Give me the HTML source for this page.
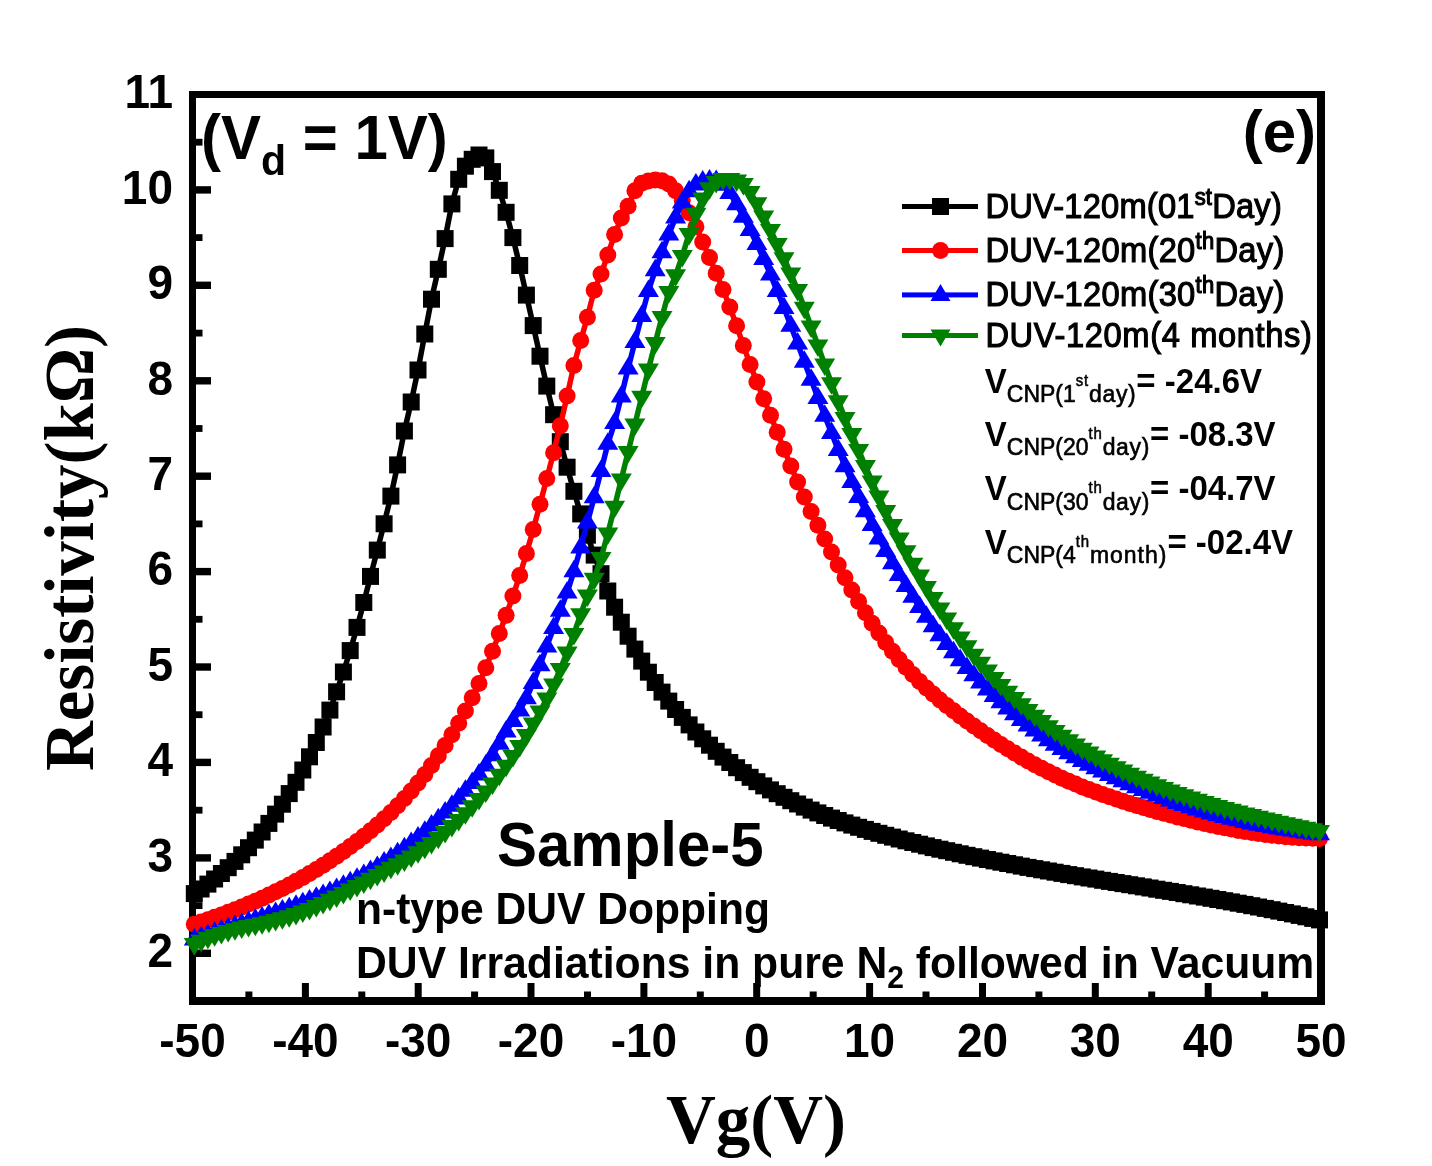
<!DOCTYPE html>
<html><head><meta charset="utf-8"><title>Resistivity vs Vg</title>
<style>html,body{margin:0;padding:0;background:#fff;}svg{display:block;}</style>
</head><body>
<svg width="1432" height="1166" viewBox="0 0 1432 1166">
<rect x="0" y="0" width="1432" height="1166" fill="#fff"/>
<g fill="#000">
<rect x="189" y="91" width="1136" height="7"/>
<rect x="189" y="997" width="1136" height="8"/>
<rect x="189" y="91" width="7" height="914"/>
<rect x="1317" y="91" width="8" height="914"/>
<rect x="196" y="949.6" width="15" height="7.4"/>
<rect x="196" y="854.2" width="15" height="7.4"/>
<rect x="196" y="758.7" width="15" height="7.4"/>
<rect x="196" y="663.3" width="15" height="7.4"/>
<rect x="196" y="567.9" width="15" height="7.4"/>
<rect x="196" y="472.5" width="15" height="7.4"/>
<rect x="196" y="377.1" width="15" height="7.4"/>
<rect x="196" y="281.6" width="15" height="7.4"/>
<rect x="196" y="186.2" width="15" height="7.4"/>
<rect x="196" y="902.2" width="6.5" height="6.8"/>
<rect x="196" y="806.8" width="6.5" height="6.8"/>
<rect x="196" y="711.3" width="6.5" height="6.8"/>
<rect x="196" y="615.9" width="6.5" height="6.8"/>
<rect x="196" y="520.5" width="6.5" height="6.8"/>
<rect x="196" y="425.1" width="6.5" height="6.8"/>
<rect x="196" y="329.7" width="6.5" height="6.8"/>
<rect x="196" y="234.2" width="6.5" height="6.8"/>
<rect x="196" y="138.8" width="6.5" height="6.8"/>
<rect x="301.9" y="983" width="7" height="15"/>
<rect x="414.7" y="983" width="7" height="15"/>
<rect x="527.5" y="983" width="7" height="15"/>
<rect x="640.4" y="983" width="7" height="15"/>
<rect x="753.2" y="983" width="7" height="15"/>
<rect x="866.1" y="983" width="7" height="15"/>
<rect x="979.0" y="983" width="7" height="15"/>
<rect x="1091.8" y="983" width="7" height="15"/>
<rect x="1204.7" y="983" width="7" height="15"/>
<rect x="245.4" y="991.5" width="7" height="6.5"/>
<rect x="358.3" y="991.5" width="7" height="6.5"/>
<rect x="471.1" y="991.5" width="7" height="6.5"/>
<rect x="584.0" y="991.5" width="7" height="6.5"/>
<rect x="696.8" y="991.5" width="7" height="6.5"/>
<rect x="809.7" y="991.5" width="7" height="6.5"/>
<rect x="922.5" y="991.5" width="7" height="6.5"/>
<rect x="1035.4" y="991.5" width="7" height="6.5"/>
<rect x="1148.2" y="991.5" width="7" height="6.5"/>
<rect x="1261.1" y="991.5" width="7" height="6.5"/>
</g>
<path d="M194.3,893.6 L201.1,889.0 L207.9,884.1 L214.6,879.0 L221.4,873.5 L228.2,867.7 L235.0,861.4 L241.7,854.8 L248.5,847.7 L255.3,840.1 L262.1,832.0 L268.9,823.4 L275.6,814.1 L282.4,804.2 L289.2,793.6 L296.0,782.3 L302.8,770.0 L309.5,756.8 L316.3,742.5 L323.1,727.0 L329.9,710.1 L336.6,691.8 L343.4,672.0 L350.2,650.6 L357.0,627.4 L363.8,602.5 L370.5,576.4 L377.3,550.1 L384.1,523.8 L390.9,496.1 L397.6,464.9 L404.4,431.0 L411.2,402.0 L418.0,370.0 L424.8,334.0 L431.5,299.2 L438.3,269.3 L445.1,238.6 L451.9,203.9 L458.7,179.3 L465.4,166.2 L472.2,159.3 L479.0,155.0 L485.8,157.9 L492.5,171.6 L499.3,190.3 L506.1,212.3 L512.9,237.6 L519.7,265.5 L526.4,295.1 L533.2,325.6 L540.0,356.2 L546.8,386.1 L553.6,414.7 L560.3,441.7 L567.1,467.2 L573.9,491.3 L580.7,513.9 L587.4,535.2 L594.2,555.1 L601.0,573.7 L607.8,591.0 L614.6,607.2 L621.3,622.2 L628.1,636.2 L634.9,649.1 L641.7,661.1 L648.4,672.2 L655.2,682.5 L662.0,692.1 L668.8,701.1 L675.6,709.5 L682.3,717.4 L689.1,724.9 L695.9,732.0 L702.7,738.8 L709.5,745.2 L716.2,751.3 L723.0,757.1 L729.8,762.5 L736.6,767.7 L743.3,772.6 L750.1,777.3 L756.9,781.7 L763.7,785.9 L770.5,789.9 L777.2,793.7 L784.0,797.3 L790.8,800.7 L797.6,804.0 L804.3,807.1 L811.1,810.1 L817.9,812.9 L824.7,815.5 L831.5,818.1 L838.2,820.5 L845.0,822.9 L851.8,825.1 L858.6,827.3 L865.4,829.4 L872.1,831.4 L878.9,833.3 L885.7,835.3 L892.5,837.1 L899.2,839.0 L906.0,840.8 L912.8,842.5 L919.6,844.2 L926.4,845.9 L933.1,847.6 L939.9,849.2 L946.7,850.7 L953.5,852.3 L960.2,853.8 L967.0,855.3 L973.8,856.7 L980.6,858.1 L987.4,859.5 L994.1,860.9 L1000.9,862.2 L1007.7,863.5 L1014.5,864.8 L1021.3,866.1 L1028.0,867.4 L1034.8,868.6 L1041.6,869.8 L1048.4,871.0 L1055.1,872.2 L1061.9,873.4 L1068.7,874.6 L1075.5,875.7 L1082.3,876.9 L1089.0,878.0 L1095.8,879.1 L1102.6,880.3 L1109.4,881.4 L1116.2,882.5 L1122.9,883.6 L1129.7,884.7 L1136.5,885.8 L1143.3,886.9 L1150.0,888.0 L1156.8,889.2 L1163.6,890.3 L1170.4,891.4 L1177.2,892.5 L1183.9,893.7 L1190.7,894.8 L1197.5,896.0 L1204.3,897.1 L1211.0,898.3 L1217.8,899.5 L1224.6,900.7 L1231.4,901.9 L1238.2,903.2 L1244.9,904.4 L1251.7,905.7 L1258.5,907.0 L1265.3,908.4 L1272.1,909.7 L1278.8,911.1 L1285.6,912.5 L1292.4,913.9 L1299.2,915.4 L1305.9,916.8 L1312.7,918.4 L1319.5,919.9" fill="none" stroke="#000" stroke-width="5.5" stroke-linejoin="round"/>
<g fill="#000">
<rect x="185.8" y="885.1" width="17" height="17"/>
<rect x="192.6" y="880.5" width="17" height="17"/>
<rect x="199.4" y="875.6" width="17" height="17"/>
<rect x="206.1" y="870.5" width="17" height="17"/>
<rect x="212.9" y="865.0" width="17" height="17"/>
<rect x="219.7" y="859.2" width="17" height="17"/>
<rect x="226.5" y="852.9" width="17" height="17"/>
<rect x="233.2" y="846.3" width="17" height="17"/>
<rect x="240.0" y="839.2" width="17" height="17"/>
<rect x="246.8" y="831.6" width="17" height="17"/>
<rect x="253.6" y="823.5" width="17" height="17"/>
<rect x="260.4" y="814.9" width="17" height="17"/>
<rect x="267.1" y="805.6" width="17" height="17"/>
<rect x="273.9" y="795.7" width="17" height="17"/>
<rect x="280.7" y="785.1" width="17" height="17"/>
<rect x="287.5" y="773.8" width="17" height="17"/>
<rect x="294.3" y="761.5" width="17" height="17"/>
<rect x="301.0" y="748.3" width="17" height="17"/>
<rect x="307.8" y="734.0" width="17" height="17"/>
<rect x="314.6" y="718.5" width="17" height="17"/>
<rect x="321.4" y="701.6" width="17" height="17"/>
<rect x="328.1" y="683.3" width="17" height="17"/>
<rect x="334.9" y="663.5" width="17" height="17"/>
<rect x="341.7" y="642.1" width="17" height="17"/>
<rect x="348.5" y="618.9" width="17" height="17"/>
<rect x="355.3" y="594.0" width="17" height="17"/>
<rect x="362.0" y="567.9" width="17" height="17"/>
<rect x="368.8" y="541.6" width="17" height="17"/>
<rect x="375.6" y="515.3" width="17" height="17"/>
<rect x="382.4" y="487.6" width="17" height="17"/>
<rect x="389.1" y="456.4" width="17" height="17"/>
<rect x="395.9" y="422.5" width="17" height="17"/>
<rect x="402.7" y="393.5" width="17" height="17"/>
<rect x="409.5" y="361.5" width="17" height="17"/>
<rect x="416.3" y="325.5" width="17" height="17"/>
<rect x="423.0" y="290.7" width="17" height="17"/>
<rect x="429.8" y="260.8" width="17" height="17"/>
<rect x="436.6" y="230.1" width="17" height="17"/>
<rect x="443.4" y="195.4" width="17" height="17"/>
<rect x="450.2" y="170.8" width="17" height="17"/>
<rect x="456.9" y="157.7" width="17" height="17"/>
<rect x="463.7" y="150.8" width="17" height="17"/>
<rect x="470.5" y="146.5" width="17" height="17"/>
<rect x="477.3" y="149.4" width="17" height="17"/>
<rect x="484.0" y="163.1" width="17" height="17"/>
<rect x="490.8" y="181.8" width="17" height="17"/>
<rect x="497.6" y="203.8" width="17" height="17"/>
<rect x="504.4" y="229.1" width="17" height="17"/>
<rect x="511.2" y="257.0" width="17" height="17"/>
<rect x="517.9" y="286.6" width="17" height="17"/>
<rect x="524.7" y="317.1" width="17" height="17"/>
<rect x="531.5" y="347.7" width="17" height="17"/>
<rect x="538.3" y="377.6" width="17" height="17"/>
<rect x="545.1" y="406.2" width="17" height="17"/>
<rect x="551.8" y="433.2" width="17" height="17"/>
<rect x="558.6" y="458.7" width="17" height="17"/>
<rect x="565.4" y="482.8" width="17" height="17"/>
<rect x="572.2" y="505.4" width="17" height="17"/>
<rect x="578.9" y="526.7" width="17" height="17"/>
<rect x="585.7" y="546.6" width="17" height="17"/>
<rect x="592.5" y="565.2" width="17" height="17"/>
<rect x="599.3" y="582.5" width="17" height="17"/>
<rect x="606.1" y="598.7" width="17" height="17"/>
<rect x="612.8" y="613.7" width="17" height="17"/>
<rect x="619.6" y="627.7" width="17" height="17"/>
<rect x="626.4" y="640.6" width="17" height="17"/>
<rect x="633.2" y="652.6" width="17" height="17"/>
<rect x="639.9" y="663.7" width="17" height="17"/>
<rect x="646.7" y="674.0" width="17" height="17"/>
<rect x="653.5" y="683.6" width="17" height="17"/>
<rect x="660.3" y="692.6" width="17" height="17"/>
<rect x="667.1" y="701.0" width="17" height="17"/>
<rect x="673.8" y="708.9" width="17" height="17"/>
<rect x="680.6" y="716.4" width="17" height="17"/>
<rect x="687.4" y="723.5" width="17" height="17"/>
<rect x="694.2" y="730.3" width="17" height="17"/>
<rect x="701.0" y="736.7" width="17" height="17"/>
<rect x="707.7" y="742.8" width="17" height="17"/>
<rect x="714.5" y="748.6" width="17" height="17"/>
<rect x="721.3" y="754.0" width="17" height="17"/>
<rect x="728.1" y="759.2" width="17" height="17"/>
<rect x="734.8" y="764.1" width="17" height="17"/>
<rect x="741.6" y="768.8" width="17" height="17"/>
<rect x="748.4" y="773.2" width="17" height="17"/>
<rect x="755.2" y="777.4" width="17" height="17"/>
<rect x="762.0" y="781.4" width="17" height="17"/>
<rect x="768.7" y="785.2" width="17" height="17"/>
<rect x="775.5" y="788.8" width="17" height="17"/>
<rect x="782.3" y="792.2" width="17" height="17"/>
<rect x="789.1" y="795.5" width="17" height="17"/>
<rect x="795.8" y="798.6" width="17" height="17"/>
<rect x="802.6" y="801.6" width="17" height="17"/>
<rect x="809.4" y="804.4" width="17" height="17"/>
<rect x="816.2" y="807.0" width="17" height="17"/>
<rect x="823.0" y="809.6" width="17" height="17"/>
<rect x="829.7" y="812.0" width="17" height="17"/>
<rect x="836.5" y="814.4" width="17" height="17"/>
<rect x="843.3" y="816.6" width="17" height="17"/>
<rect x="850.1" y="818.8" width="17" height="17"/>
<rect x="856.9" y="820.9" width="17" height="17"/>
<rect x="863.6" y="822.9" width="17" height="17"/>
<rect x="870.4" y="824.8" width="17" height="17"/>
<rect x="877.2" y="826.8" width="17" height="17"/>
<rect x="884.0" y="828.6" width="17" height="17"/>
<rect x="890.7" y="830.5" width="17" height="17"/>
<rect x="897.5" y="832.3" width="17" height="17"/>
<rect x="904.3" y="834.0" width="17" height="17"/>
<rect x="911.1" y="835.7" width="17" height="17"/>
<rect x="917.9" y="837.4" width="17" height="17"/>
<rect x="924.6" y="839.1" width="17" height="17"/>
<rect x="931.4" y="840.7" width="17" height="17"/>
<rect x="938.2" y="842.2" width="17" height="17"/>
<rect x="945.0" y="843.8" width="17" height="17"/>
<rect x="951.7" y="845.3" width="17" height="17"/>
<rect x="958.5" y="846.8" width="17" height="17"/>
<rect x="965.3" y="848.2" width="17" height="17"/>
<rect x="972.1" y="849.6" width="17" height="17"/>
<rect x="978.9" y="851.0" width="17" height="17"/>
<rect x="985.6" y="852.4" width="17" height="17"/>
<rect x="992.4" y="853.7" width="17" height="17"/>
<rect x="999.2" y="855.0" width="17" height="17"/>
<rect x="1006.0" y="856.3" width="17" height="17"/>
<rect x="1012.8" y="857.6" width="17" height="17"/>
<rect x="1019.5" y="858.9" width="17" height="17"/>
<rect x="1026.3" y="860.1" width="17" height="17"/>
<rect x="1033.1" y="861.3" width="17" height="17"/>
<rect x="1039.9" y="862.5" width="17" height="17"/>
<rect x="1046.6" y="863.7" width="17" height="17"/>
<rect x="1053.4" y="864.9" width="17" height="17"/>
<rect x="1060.2" y="866.1" width="17" height="17"/>
<rect x="1067.0" y="867.2" width="17" height="17"/>
<rect x="1073.8" y="868.4" width="17" height="17"/>
<rect x="1080.5" y="869.5" width="17" height="17"/>
<rect x="1087.3" y="870.6" width="17" height="17"/>
<rect x="1094.1" y="871.8" width="17" height="17"/>
<rect x="1100.9" y="872.9" width="17" height="17"/>
<rect x="1107.7" y="874.0" width="17" height="17"/>
<rect x="1114.4" y="875.1" width="17" height="17"/>
<rect x="1121.2" y="876.2" width="17" height="17"/>
<rect x="1128.0" y="877.3" width="17" height="17"/>
<rect x="1134.8" y="878.4" width="17" height="17"/>
<rect x="1141.5" y="879.5" width="17" height="17"/>
<rect x="1148.3" y="880.7" width="17" height="17"/>
<rect x="1155.1" y="881.8" width="17" height="17"/>
<rect x="1161.9" y="882.9" width="17" height="17"/>
<rect x="1168.7" y="884.0" width="17" height="17"/>
<rect x="1175.4" y="885.2" width="17" height="17"/>
<rect x="1182.2" y="886.3" width="17" height="17"/>
<rect x="1189.0" y="887.5" width="17" height="17"/>
<rect x="1195.8" y="888.6" width="17" height="17"/>
<rect x="1202.5" y="889.8" width="17" height="17"/>
<rect x="1209.3" y="891.0" width="17" height="17"/>
<rect x="1216.1" y="892.2" width="17" height="17"/>
<rect x="1222.9" y="893.4" width="17" height="17"/>
<rect x="1229.7" y="894.7" width="17" height="17"/>
<rect x="1236.4" y="895.9" width="17" height="17"/>
<rect x="1243.2" y="897.2" width="17" height="17"/>
<rect x="1250.0" y="898.5" width="17" height="17"/>
<rect x="1256.8" y="899.9" width="17" height="17"/>
<rect x="1263.6" y="901.2" width="17" height="17"/>
<rect x="1270.3" y="902.6" width="17" height="17"/>
<rect x="1277.1" y="904.0" width="17" height="17"/>
<rect x="1283.9" y="905.4" width="17" height="17"/>
<rect x="1290.7" y="906.9" width="17" height="17"/>
<rect x="1297.4" y="908.3" width="17" height="17"/>
<rect x="1304.2" y="909.9" width="17" height="17"/>
<rect x="1311.0" y="911.4" width="17" height="17"/>
</g>
<path d="M194.3,924.3 L201.1,922.0 L207.9,919.7 L214.6,917.3 L221.4,914.9 L228.2,912.3 L235.0,909.7 L241.7,907.0 L248.5,904.1 L255.3,901.2 L262.1,898.2 L268.9,895.0 L275.6,891.8 L282.4,888.4 L289.2,884.9 L296.0,881.2 L302.8,877.4 L309.5,873.5 L316.3,869.4 L323.1,865.2 L329.9,860.8 L336.6,856.2 L343.4,851.5 L350.2,846.6 L357.0,841.5 L363.8,836.2 L370.5,830.7 L377.3,824.9 L384.1,818.8 L390.9,812.4 L397.6,805.7 L404.4,798.6 L411.2,791.0 L418.0,783.0 L424.8,774.5 L431.5,765.4 L438.3,755.8 L445.1,745.6 L451.9,734.8 L458.7,723.3 L465.4,711.0 L472.2,697.7 L479.0,683.4 L485.8,667.8 L492.5,651.2 L499.3,633.6 L506.1,615.2 L512.9,596.0 L519.7,575.6 L526.4,553.6 L533.2,529.6 L540.0,504.3 L546.8,478.5 L553.6,452.7 L560.3,425.7 L567.1,396.1 L573.9,365.4 L580.7,340.6 L587.4,317.2 L594.2,290.2 L601.0,274.1 L607.8,254.9 L614.6,234.4 L621.3,218.1 L628.1,206.3 L634.9,190.8 L641.7,183.2 L648.4,180.9 L655.2,180.0 L662.0,180.8 L668.8,184.1 L675.6,190.7 L682.3,200.5 L689.1,212.8 L695.9,226.8 L702.7,242.0 L709.5,257.6 L716.2,273.3 L723.0,289.4 L729.8,306.9 L736.6,325.8 L743.3,345.4 L750.1,364.4 L756.9,382.0 L763.7,398.7 L770.5,415.2 L777.2,432.2 L784.0,449.3 L790.8,466.0 L797.6,481.9 L804.3,497.0 L811.1,511.4 L817.9,525.3 L824.7,538.9 L831.5,552.1 L838.2,565.1 L845.0,577.8 L851.8,589.9 L858.6,601.6 L865.4,612.7 L872.1,623.2 L878.9,633.1 L885.7,642.4 L892.5,651.2 L899.2,659.5 L906.0,667.2 L912.8,674.5 L919.6,681.4 L926.4,687.9 L933.1,694.0 L939.9,699.9 L946.7,705.4 L953.5,710.8 L960.2,715.9 L967.0,721.0 L973.8,725.9 L980.6,730.7 L987.4,735.4 L994.1,740.0 L1000.9,744.5 L1007.7,748.8 L1014.5,753.0 L1021.3,757.0 L1028.0,760.9 L1034.8,764.7 L1041.6,768.3 L1048.4,771.8 L1055.1,775.1 L1061.9,778.2 L1068.7,781.2 L1075.5,784.1 L1082.3,786.9 L1089.0,789.5 L1095.8,792.0 L1102.6,794.5 L1109.4,796.8 L1116.2,799.1 L1122.9,801.2 L1129.7,803.4 L1136.5,805.4 L1143.3,807.5 L1150.0,809.4 L1156.8,811.4 L1163.6,813.3 L1170.4,815.1 L1177.2,816.9 L1183.9,818.6 L1190.7,820.3 L1197.5,822.0 L1204.3,823.5 L1211.0,825.0 L1217.8,826.5 L1224.6,827.8 L1231.4,829.1 L1238.2,830.4 L1244.9,831.5 L1251.7,832.6 L1258.5,833.6 L1265.3,834.5 L1272.1,835.3 L1278.8,836.1 L1285.6,836.7 L1292.4,837.3 L1299.2,837.7 L1305.9,838.1 L1312.7,838.3 L1319.5,838.5" fill="none" stroke="#f00" stroke-width="5.5" stroke-linejoin="round"/>
<g fill="#f00">
<circle cx="194.3" cy="924.3" r="8.5"/>
<circle cx="201.1" cy="922.0" r="8.5"/>
<circle cx="207.9" cy="919.7" r="8.5"/>
<circle cx="214.6" cy="917.3" r="8.5"/>
<circle cx="221.4" cy="914.9" r="8.5"/>
<circle cx="228.2" cy="912.3" r="8.5"/>
<circle cx="235.0" cy="909.7" r="8.5"/>
<circle cx="241.7" cy="907.0" r="8.5"/>
<circle cx="248.5" cy="904.1" r="8.5"/>
<circle cx="255.3" cy="901.2" r="8.5"/>
<circle cx="262.1" cy="898.2" r="8.5"/>
<circle cx="268.9" cy="895.0" r="8.5"/>
<circle cx="275.6" cy="891.8" r="8.5"/>
<circle cx="282.4" cy="888.4" r="8.5"/>
<circle cx="289.2" cy="884.9" r="8.5"/>
<circle cx="296.0" cy="881.2" r="8.5"/>
<circle cx="302.8" cy="877.4" r="8.5"/>
<circle cx="309.5" cy="873.5" r="8.5"/>
<circle cx="316.3" cy="869.4" r="8.5"/>
<circle cx="323.1" cy="865.2" r="8.5"/>
<circle cx="329.9" cy="860.8" r="8.5"/>
<circle cx="336.6" cy="856.2" r="8.5"/>
<circle cx="343.4" cy="851.5" r="8.5"/>
<circle cx="350.2" cy="846.6" r="8.5"/>
<circle cx="357.0" cy="841.5" r="8.5"/>
<circle cx="363.8" cy="836.2" r="8.5"/>
<circle cx="370.5" cy="830.7" r="8.5"/>
<circle cx="377.3" cy="824.9" r="8.5"/>
<circle cx="384.1" cy="818.8" r="8.5"/>
<circle cx="390.9" cy="812.4" r="8.5"/>
<circle cx="397.6" cy="805.7" r="8.5"/>
<circle cx="404.4" cy="798.6" r="8.5"/>
<circle cx="411.2" cy="791.0" r="8.5"/>
<circle cx="418.0" cy="783.0" r="8.5"/>
<circle cx="424.8" cy="774.5" r="8.5"/>
<circle cx="431.5" cy="765.4" r="8.5"/>
<circle cx="438.3" cy="755.8" r="8.5"/>
<circle cx="445.1" cy="745.6" r="8.5"/>
<circle cx="451.9" cy="734.8" r="8.5"/>
<circle cx="458.7" cy="723.3" r="8.5"/>
<circle cx="465.4" cy="711.0" r="8.5"/>
<circle cx="472.2" cy="697.7" r="8.5"/>
<circle cx="479.0" cy="683.4" r="8.5"/>
<circle cx="485.8" cy="667.8" r="8.5"/>
<circle cx="492.5" cy="651.2" r="8.5"/>
<circle cx="499.3" cy="633.6" r="8.5"/>
<circle cx="506.1" cy="615.2" r="8.5"/>
<circle cx="512.9" cy="596.0" r="8.5"/>
<circle cx="519.7" cy="575.6" r="8.5"/>
<circle cx="526.4" cy="553.6" r="8.5"/>
<circle cx="533.2" cy="529.6" r="8.5"/>
<circle cx="540.0" cy="504.3" r="8.5"/>
<circle cx="546.8" cy="478.5" r="8.5"/>
<circle cx="553.6" cy="452.7" r="8.5"/>
<circle cx="560.3" cy="425.7" r="8.5"/>
<circle cx="567.1" cy="396.1" r="8.5"/>
<circle cx="573.9" cy="365.4" r="8.5"/>
<circle cx="580.7" cy="340.6" r="8.5"/>
<circle cx="587.4" cy="317.2" r="8.5"/>
<circle cx="594.2" cy="290.2" r="8.5"/>
<circle cx="601.0" cy="274.1" r="8.5"/>
<circle cx="607.8" cy="254.9" r="8.5"/>
<circle cx="614.6" cy="234.4" r="8.5"/>
<circle cx="621.3" cy="218.1" r="8.5"/>
<circle cx="628.1" cy="206.3" r="8.5"/>
<circle cx="634.9" cy="190.8" r="8.5"/>
<circle cx="641.7" cy="183.2" r="8.5"/>
<circle cx="648.4" cy="180.9" r="8.5"/>
<circle cx="655.2" cy="180.0" r="8.5"/>
<circle cx="662.0" cy="180.8" r="8.5"/>
<circle cx="668.8" cy="184.1" r="8.5"/>
<circle cx="675.6" cy="190.7" r="8.5"/>
<circle cx="682.3" cy="200.5" r="8.5"/>
<circle cx="689.1" cy="212.8" r="8.5"/>
<circle cx="695.9" cy="226.8" r="8.5"/>
<circle cx="702.7" cy="242.0" r="8.5"/>
<circle cx="709.5" cy="257.6" r="8.5"/>
<circle cx="716.2" cy="273.3" r="8.5"/>
<circle cx="723.0" cy="289.4" r="8.5"/>
<circle cx="729.8" cy="306.9" r="8.5"/>
<circle cx="736.6" cy="325.8" r="8.5"/>
<circle cx="743.3" cy="345.4" r="8.5"/>
<circle cx="750.1" cy="364.4" r="8.5"/>
<circle cx="756.9" cy="382.0" r="8.5"/>
<circle cx="763.7" cy="398.7" r="8.5"/>
<circle cx="770.5" cy="415.2" r="8.5"/>
<circle cx="777.2" cy="432.2" r="8.5"/>
<circle cx="784.0" cy="449.3" r="8.5"/>
<circle cx="790.8" cy="466.0" r="8.5"/>
<circle cx="797.6" cy="481.9" r="8.5"/>
<circle cx="804.3" cy="497.0" r="8.5"/>
<circle cx="811.1" cy="511.4" r="8.5"/>
<circle cx="817.9" cy="525.3" r="8.5"/>
<circle cx="824.7" cy="538.9" r="8.5"/>
<circle cx="831.5" cy="552.1" r="8.5"/>
<circle cx="838.2" cy="565.1" r="8.5"/>
<circle cx="845.0" cy="577.8" r="8.5"/>
<circle cx="851.8" cy="589.9" r="8.5"/>
<circle cx="858.6" cy="601.6" r="8.5"/>
<circle cx="865.4" cy="612.7" r="8.5"/>
<circle cx="872.1" cy="623.2" r="8.5"/>
<circle cx="878.9" cy="633.1" r="8.5"/>
<circle cx="885.7" cy="642.4" r="8.5"/>
<circle cx="892.5" cy="651.2" r="8.5"/>
<circle cx="899.2" cy="659.5" r="8.5"/>
<circle cx="906.0" cy="667.2" r="8.5"/>
<circle cx="912.8" cy="674.5" r="8.5"/>
<circle cx="919.6" cy="681.4" r="8.5"/>
<circle cx="926.4" cy="687.9" r="8.5"/>
<circle cx="933.1" cy="694.0" r="8.5"/>
<circle cx="939.9" cy="699.9" r="8.5"/>
<circle cx="946.7" cy="705.4" r="8.5"/>
<circle cx="953.5" cy="710.8" r="8.5"/>
<circle cx="960.2" cy="715.9" r="8.5"/>
<circle cx="967.0" cy="721.0" r="8.5"/>
<circle cx="973.8" cy="725.9" r="8.5"/>
<circle cx="980.6" cy="730.7" r="8.5"/>
<circle cx="987.4" cy="735.4" r="8.5"/>
<circle cx="994.1" cy="740.0" r="8.5"/>
<circle cx="1000.9" cy="744.5" r="8.5"/>
<circle cx="1007.7" cy="748.8" r="8.5"/>
<circle cx="1014.5" cy="753.0" r="8.5"/>
<circle cx="1021.3" cy="757.0" r="8.5"/>
<circle cx="1028.0" cy="760.9" r="8.5"/>
<circle cx="1034.8" cy="764.7" r="8.5"/>
<circle cx="1041.6" cy="768.3" r="8.5"/>
<circle cx="1048.4" cy="771.8" r="8.5"/>
<circle cx="1055.1" cy="775.1" r="8.5"/>
<circle cx="1061.9" cy="778.2" r="8.5"/>
<circle cx="1068.7" cy="781.2" r="8.5"/>
<circle cx="1075.5" cy="784.1" r="8.5"/>
<circle cx="1082.3" cy="786.9" r="8.5"/>
<circle cx="1089.0" cy="789.5" r="8.5"/>
<circle cx="1095.8" cy="792.0" r="8.5"/>
<circle cx="1102.6" cy="794.5" r="8.5"/>
<circle cx="1109.4" cy="796.8" r="8.5"/>
<circle cx="1116.2" cy="799.1" r="8.5"/>
<circle cx="1122.9" cy="801.2" r="8.5"/>
<circle cx="1129.7" cy="803.4" r="8.5"/>
<circle cx="1136.5" cy="805.4" r="8.5"/>
<circle cx="1143.3" cy="807.5" r="8.5"/>
<circle cx="1150.0" cy="809.4" r="8.5"/>
<circle cx="1156.8" cy="811.4" r="8.5"/>
<circle cx="1163.6" cy="813.3" r="8.5"/>
<circle cx="1170.4" cy="815.1" r="8.5"/>
<circle cx="1177.2" cy="816.9" r="8.5"/>
<circle cx="1183.9" cy="818.6" r="8.5"/>
<circle cx="1190.7" cy="820.3" r="8.5"/>
<circle cx="1197.5" cy="822.0" r="8.5"/>
<circle cx="1204.3" cy="823.5" r="8.5"/>
<circle cx="1211.0" cy="825.0" r="8.5"/>
<circle cx="1217.8" cy="826.5" r="8.5"/>
<circle cx="1224.6" cy="827.8" r="8.5"/>
<circle cx="1231.4" cy="829.1" r="8.5"/>
<circle cx="1238.2" cy="830.4" r="8.5"/>
<circle cx="1244.9" cy="831.5" r="8.5"/>
<circle cx="1251.7" cy="832.6" r="8.5"/>
<circle cx="1258.5" cy="833.6" r="8.5"/>
<circle cx="1265.3" cy="834.5" r="8.5"/>
<circle cx="1272.1" cy="835.3" r="8.5"/>
<circle cx="1278.8" cy="836.1" r="8.5"/>
<circle cx="1285.6" cy="836.7" r="8.5"/>
<circle cx="1292.4" cy="837.3" r="8.5"/>
<circle cx="1299.2" cy="837.7" r="8.5"/>
<circle cx="1305.9" cy="838.1" r="8.5"/>
<circle cx="1312.7" cy="838.3" r="8.5"/>
<circle cx="1319.5" cy="838.5" r="8.5"/>
</g>
<path d="M194.3,939.6 L201.1,937.2 L207.9,934.9 L214.6,932.7 L221.4,930.4 L228.2,928.2 L235.0,926.1 L241.7,923.9 L248.5,921.7 L255.3,919.6 L262.1,917.4 L268.9,915.1 L275.6,912.9 L282.4,910.6 L289.2,908.2 L296.0,905.7 L302.8,903.2 L309.5,900.6 L316.3,897.8 L323.1,895.0 L329.9,892.0 L336.6,888.9 L343.4,885.7 L350.2,882.3 L357.0,878.7 L363.8,874.9 L370.5,871.0 L377.3,866.9 L384.1,862.6 L390.9,858.0 L397.6,853.2 L404.4,848.2 L411.2,843.0 L418.0,837.5 L424.8,831.7 L431.5,825.6 L438.3,819.3 L445.1,812.6 L451.9,805.7 L458.7,798.4 L465.4,790.8 L472.2,782.9 L479.0,774.5 L485.8,765.5 L492.5,755.3 L499.3,743.7 L506.1,731.6 L512.9,721.0 L519.7,710.5 L526.4,698.3 L533.2,683.0 L540.0,665.2 L546.8,646.4 L553.6,628.0 L560.3,610.7 L567.1,592.6 L573.9,571.3 L580.7,547.4 L587.4,522.5 L594.2,497.2 L601.0,471.0 L607.8,443.8 L614.6,422.9 L621.3,396.5 L628.1,368.5 L634.9,341.9 L641.7,315.9 L648.4,290.9 L655.2,270.3 L662.0,252.3 L668.8,234.5 L675.6,217.4 L682.3,202.5 L689.1,191.2 L695.9,184.5 L702.7,181.4 L709.5,180.4 L716.2,181.0 L723.0,184.7 L729.8,193.0 L736.6,204.3 L743.3,216.7 L750.1,229.9 L756.9,244.0 L763.7,258.9 L770.5,274.6 L777.2,291.1 L784.0,308.1 L790.8,325.7 L797.6,343.6 L804.3,361.7 L811.1,379.8 L817.9,397.9 L824.7,415.7 L831.5,433.1 L838.2,450.1 L845.0,466.3 L851.8,481.9 L858.6,496.9 L865.4,511.3 L872.1,525.1 L878.9,538.4 L885.7,551.1 L892.5,563.2 L899.2,574.9 L906.0,586.0 L912.8,596.7 L919.6,607.0 L926.4,616.8 L933.1,626.3 L939.9,635.3 L946.7,644.0 L953.5,652.3 L960.2,660.3 L967.0,668.0 L973.8,675.3 L980.6,682.5 L987.4,689.4 L994.1,696.0 L1000.9,702.3 L1007.7,708.5 L1014.5,714.3 L1021.3,720.0 L1028.0,725.4 L1034.8,730.6 L1041.6,735.5 L1048.4,740.2 L1055.1,744.7 L1061.9,749.0 L1068.7,753.2 L1075.5,757.2 L1082.3,761.0 L1089.0,764.7 L1095.8,768.2 L1102.6,771.6 L1109.4,775.0 L1116.2,778.2 L1122.9,781.3 L1129.7,784.3 L1136.5,787.3 L1143.3,790.1 L1150.0,792.8 L1156.8,795.5 L1163.6,798.0 L1170.4,800.5 L1177.2,802.9 L1183.9,805.1 L1190.7,807.3 L1197.5,809.4 L1204.3,811.5 L1211.0,813.4 L1217.8,815.3 L1224.6,817.0 L1231.4,818.7 L1238.2,820.3 L1244.9,821.9 L1251.7,823.4 L1258.5,824.7 L1265.3,826.1 L1272.1,827.3 L1278.8,828.5 L1285.6,829.6 L1292.4,830.6 L1299.2,831.6 L1305.9,832.5 L1312.7,833.4 L1319.5,834.2" fill="none" stroke="#00f" stroke-width="5.5" stroke-linejoin="round"/>
<g fill="#00f">
<path d="M194.3,928.1 L204.8,945.6 L183.8,945.6Z"/>
<path d="M201.1,925.7 L211.6,943.2 L190.6,943.2Z"/>
<path d="M207.9,923.4 L218.4,940.9 L197.4,940.9Z"/>
<path d="M214.6,921.2 L225.1,938.7 L204.1,938.7Z"/>
<path d="M221.4,918.9 L231.9,936.4 L210.9,936.4Z"/>
<path d="M228.2,916.7 L238.7,934.2 L217.7,934.2Z"/>
<path d="M235.0,914.6 L245.5,932.1 L224.5,932.1Z"/>
<path d="M241.7,912.4 L252.2,929.9 L231.2,929.9Z"/>
<path d="M248.5,910.2 L259.0,927.7 L238.0,927.7Z"/>
<path d="M255.3,908.1 L265.8,925.6 L244.8,925.6Z"/>
<path d="M262.1,905.9 L272.6,923.4 L251.6,923.4Z"/>
<path d="M268.9,903.6 L279.4,921.1 L258.4,921.1Z"/>
<path d="M275.6,901.4 L286.1,918.9 L265.1,918.9Z"/>
<path d="M282.4,899.1 L292.9,916.6 L271.9,916.6Z"/>
<path d="M289.2,896.7 L299.7,914.2 L278.7,914.2Z"/>
<path d="M296.0,894.2 L306.5,911.7 L285.5,911.7Z"/>
<path d="M302.8,891.7 L313.3,909.2 L292.3,909.2Z"/>
<path d="M309.5,889.1 L320.0,906.6 L299.0,906.6Z"/>
<path d="M316.3,886.3 L326.8,903.8 L305.8,903.8Z"/>
<path d="M323.1,883.5 L333.6,901.0 L312.6,901.0Z"/>
<path d="M329.9,880.5 L340.4,898.0 L319.4,898.0Z"/>
<path d="M336.6,877.4 L347.1,894.9 L326.1,894.9Z"/>
<path d="M343.4,874.2 L353.9,891.7 L332.9,891.7Z"/>
<path d="M350.2,870.8 L360.7,888.3 L339.7,888.3Z"/>
<path d="M357.0,867.2 L367.5,884.7 L346.5,884.7Z"/>
<path d="M363.8,863.4 L374.3,880.9 L353.3,880.9Z"/>
<path d="M370.5,859.5 L381.0,877.0 L360.0,877.0Z"/>
<path d="M377.3,855.4 L387.8,872.9 L366.8,872.9Z"/>
<path d="M384.1,851.1 L394.6,868.6 L373.6,868.6Z"/>
<path d="M390.9,846.5 L401.4,864.0 L380.4,864.0Z"/>
<path d="M397.6,841.7 L408.1,859.2 L387.1,859.2Z"/>
<path d="M404.4,836.7 L414.9,854.2 L393.9,854.2Z"/>
<path d="M411.2,831.5 L421.7,849.0 L400.7,849.0Z"/>
<path d="M418.0,826.0 L428.5,843.5 L407.5,843.5Z"/>
<path d="M424.8,820.2 L435.3,837.7 L414.3,837.7Z"/>
<path d="M431.5,814.1 L442.0,831.6 L421.0,831.6Z"/>
<path d="M438.3,807.8 L448.8,825.3 L427.8,825.3Z"/>
<path d="M445.1,801.1 L455.6,818.6 L434.6,818.6Z"/>
<path d="M451.9,794.2 L462.4,811.7 L441.4,811.7Z"/>
<path d="M458.7,786.9 L469.2,804.4 L448.2,804.4Z"/>
<path d="M465.4,779.3 L475.9,796.8 L454.9,796.8Z"/>
<path d="M472.2,771.4 L482.7,788.9 L461.7,788.9Z"/>
<path d="M479.0,763.0 L489.5,780.5 L468.5,780.5Z"/>
<path d="M485.8,754.0 L496.3,771.5 L475.3,771.5Z"/>
<path d="M492.5,743.8 L503.0,761.3 L482.0,761.3Z"/>
<path d="M499.3,732.2 L509.8,749.7 L488.8,749.7Z"/>
<path d="M506.1,720.1 L516.6,737.6 L495.6,737.6Z"/>
<path d="M512.9,709.5 L523.4,727.0 L502.4,727.0Z"/>
<path d="M519.7,699.0 L530.2,716.5 L509.2,716.5Z"/>
<path d="M526.4,686.8 L536.9,704.3 L515.9,704.3Z"/>
<path d="M533.2,671.5 L543.7,689.0 L522.7,689.0Z"/>
<path d="M540.0,653.7 L550.5,671.2 L529.5,671.2Z"/>
<path d="M546.8,634.9 L557.3,652.4 L536.3,652.4Z"/>
<path d="M553.6,616.5 L564.1,634.0 L543.1,634.0Z"/>
<path d="M560.3,599.2 L570.8,616.7 L549.8,616.7Z"/>
<path d="M567.1,581.1 L577.6,598.6 L556.6,598.6Z"/>
<path d="M573.9,559.8 L584.4,577.3 L563.4,577.3Z"/>
<path d="M580.7,535.9 L591.2,553.4 L570.2,553.4Z"/>
<path d="M587.4,511.0 L597.9,528.5 L576.9,528.5Z"/>
<path d="M594.2,485.7 L604.7,503.2 L583.7,503.2Z"/>
<path d="M601.0,459.5 L611.5,477.0 L590.5,477.0Z"/>
<path d="M607.8,432.3 L618.3,449.8 L597.3,449.8Z"/>
<path d="M614.6,411.4 L625.1,428.9 L604.1,428.9Z"/>
<path d="M621.3,385.0 L631.8,402.5 L610.8,402.5Z"/>
<path d="M628.1,357.0 L638.6,374.5 L617.6,374.5Z"/>
<path d="M634.9,330.4 L645.4,347.9 L624.4,347.9Z"/>
<path d="M641.7,304.4 L652.2,321.9 L631.2,321.9Z"/>
<path d="M648.4,279.4 L658.9,296.9 L637.9,296.9Z"/>
<path d="M655.2,258.8 L665.7,276.3 L644.7,276.3Z"/>
<path d="M662.0,240.8 L672.5,258.3 L651.5,258.3Z"/>
<path d="M668.8,223.0 L679.3,240.5 L658.3,240.5Z"/>
<path d="M675.6,205.9 L686.1,223.4 L665.1,223.4Z"/>
<path d="M682.3,191.0 L692.8,208.5 L671.8,208.5Z"/>
<path d="M689.1,179.7 L699.6,197.2 L678.6,197.2Z"/>
<path d="M695.9,173.0 L706.4,190.5 L685.4,190.5Z"/>
<path d="M702.7,169.9 L713.2,187.4 L692.2,187.4Z"/>
<path d="M709.5,168.9 L720.0,186.4 L699.0,186.4Z"/>
<path d="M716.2,169.5 L726.7,187.0 L705.7,187.0Z"/>
<path d="M723.0,173.2 L733.5,190.7 L712.5,190.7Z"/>
<path d="M729.8,181.5 L740.3,199.0 L719.3,199.0Z"/>
<path d="M736.6,192.8 L747.1,210.3 L726.1,210.3Z"/>
<path d="M743.3,205.2 L753.8,222.7 L732.8,222.7Z"/>
<path d="M750.1,218.4 L760.6,235.9 L739.6,235.9Z"/>
<path d="M756.9,232.5 L767.4,250.0 L746.4,250.0Z"/>
<path d="M763.7,247.4 L774.2,264.9 L753.2,264.9Z"/>
<path d="M770.5,263.1 L781.0,280.6 L760.0,280.6Z"/>
<path d="M777.2,279.6 L787.7,297.1 L766.7,297.1Z"/>
<path d="M784.0,296.6 L794.5,314.1 L773.5,314.1Z"/>
<path d="M790.8,314.2 L801.3,331.7 L780.3,331.7Z"/>
<path d="M797.6,332.1 L808.1,349.6 L787.1,349.6Z"/>
<path d="M804.3,350.2 L814.8,367.7 L793.8,367.7Z"/>
<path d="M811.1,368.3 L821.6,385.8 L800.6,385.8Z"/>
<path d="M817.9,386.4 L828.4,403.9 L807.4,403.9Z"/>
<path d="M824.7,404.2 L835.2,421.7 L814.2,421.7Z"/>
<path d="M831.5,421.6 L842.0,439.1 L821.0,439.1Z"/>
<path d="M838.2,438.6 L848.7,456.1 L827.7,456.1Z"/>
<path d="M845.0,454.8 L855.5,472.3 L834.5,472.3Z"/>
<path d="M851.8,470.4 L862.3,487.9 L841.3,487.9Z"/>
<path d="M858.6,485.4 L869.1,502.9 L848.1,502.9Z"/>
<path d="M865.4,499.8 L875.9,517.3 L854.9,517.3Z"/>
<path d="M872.1,513.6 L882.6,531.1 L861.6,531.1Z"/>
<path d="M878.9,526.9 L889.4,544.4 L868.4,544.4Z"/>
<path d="M885.7,539.6 L896.2,557.1 L875.2,557.1Z"/>
<path d="M892.5,551.7 L903.0,569.2 L882.0,569.2Z"/>
<path d="M899.2,563.4 L909.7,580.9 L888.7,580.9Z"/>
<path d="M906.0,574.5 L916.5,592.0 L895.5,592.0Z"/>
<path d="M912.8,585.2 L923.3,602.7 L902.3,602.7Z"/>
<path d="M919.6,595.5 L930.1,613.0 L909.1,613.0Z"/>
<path d="M926.4,605.3 L936.9,622.8 L915.9,622.8Z"/>
<path d="M933.1,614.8 L943.6,632.3 L922.6,632.3Z"/>
<path d="M939.9,623.8 L950.4,641.3 L929.4,641.3Z"/>
<path d="M946.7,632.5 L957.2,650.0 L936.2,650.0Z"/>
<path d="M953.5,640.8 L964.0,658.3 L943.0,658.3Z"/>
<path d="M960.2,648.8 L970.7,666.3 L949.7,666.3Z"/>
<path d="M967.0,656.5 L977.5,674.0 L956.5,674.0Z"/>
<path d="M973.8,663.8 L984.3,681.3 L963.3,681.3Z"/>
<path d="M980.6,671.0 L991.1,688.5 L970.1,688.5Z"/>
<path d="M987.4,677.9 L997.9,695.4 L976.9,695.4Z"/>
<path d="M994.1,684.5 L1004.6,702.0 L983.6,702.0Z"/>
<path d="M1000.9,690.8 L1011.4,708.3 L990.4,708.3Z"/>
<path d="M1007.7,697.0 L1018.2,714.5 L997.2,714.5Z"/>
<path d="M1014.5,702.8 L1025.0,720.3 L1004.0,720.3Z"/>
<path d="M1021.3,708.5 L1031.8,726.0 L1010.8,726.0Z"/>
<path d="M1028.0,713.9 L1038.5,731.4 L1017.5,731.4Z"/>
<path d="M1034.8,719.1 L1045.3,736.6 L1024.3,736.6Z"/>
<path d="M1041.6,724.0 L1052.1,741.5 L1031.1,741.5Z"/>
<path d="M1048.4,728.7 L1058.9,746.2 L1037.9,746.2Z"/>
<path d="M1055.1,733.2 L1065.6,750.7 L1044.6,750.7Z"/>
<path d="M1061.9,737.5 L1072.4,755.0 L1051.4,755.0Z"/>
<path d="M1068.7,741.7 L1079.2,759.2 L1058.2,759.2Z"/>
<path d="M1075.5,745.7 L1086.0,763.2 L1065.0,763.2Z"/>
<path d="M1082.3,749.5 L1092.8,767.0 L1071.8,767.0Z"/>
<path d="M1089.0,753.2 L1099.5,770.7 L1078.5,770.7Z"/>
<path d="M1095.8,756.7 L1106.3,774.2 L1085.3,774.2Z"/>
<path d="M1102.6,760.1 L1113.1,777.6 L1092.1,777.6Z"/>
<path d="M1109.4,763.5 L1119.9,781.0 L1098.9,781.0Z"/>
<path d="M1116.2,766.7 L1126.7,784.2 L1105.7,784.2Z"/>
<path d="M1122.9,769.8 L1133.4,787.3 L1112.4,787.3Z"/>
<path d="M1129.7,772.8 L1140.2,790.3 L1119.2,790.3Z"/>
<path d="M1136.5,775.8 L1147.0,793.3 L1126.0,793.3Z"/>
<path d="M1143.3,778.6 L1153.8,796.1 L1132.8,796.1Z"/>
<path d="M1150.0,781.3 L1160.5,798.8 L1139.5,798.8Z"/>
<path d="M1156.8,784.0 L1167.3,801.5 L1146.3,801.5Z"/>
<path d="M1163.6,786.5 L1174.1,804.0 L1153.1,804.0Z"/>
<path d="M1170.4,789.0 L1180.9,806.5 L1159.9,806.5Z"/>
<path d="M1177.2,791.4 L1187.7,808.9 L1166.7,808.9Z"/>
<path d="M1183.9,793.6 L1194.4,811.1 L1173.4,811.1Z"/>
<path d="M1190.7,795.8 L1201.2,813.3 L1180.2,813.3Z"/>
<path d="M1197.5,797.9 L1208.0,815.4 L1187.0,815.4Z"/>
<path d="M1204.3,800.0 L1214.8,817.5 L1193.8,817.5Z"/>
<path d="M1211.0,801.9 L1221.5,819.4 L1200.5,819.4Z"/>
<path d="M1217.8,803.8 L1228.3,821.3 L1207.3,821.3Z"/>
<path d="M1224.6,805.5 L1235.1,823.0 L1214.1,823.0Z"/>
<path d="M1231.4,807.2 L1241.9,824.7 L1220.9,824.7Z"/>
<path d="M1238.2,808.8 L1248.7,826.3 L1227.7,826.3Z"/>
<path d="M1244.9,810.4 L1255.4,827.9 L1234.4,827.9Z"/>
<path d="M1251.7,811.9 L1262.2,829.4 L1241.2,829.4Z"/>
<path d="M1258.5,813.2 L1269.0,830.7 L1248.0,830.7Z"/>
<path d="M1265.3,814.6 L1275.8,832.1 L1254.8,832.1Z"/>
<path d="M1272.1,815.8 L1282.6,833.3 L1261.6,833.3Z"/>
<path d="M1278.8,817.0 L1289.3,834.5 L1268.3,834.5Z"/>
<path d="M1285.6,818.1 L1296.1,835.6 L1275.1,835.6Z"/>
<path d="M1292.4,819.1 L1302.9,836.6 L1281.9,836.6Z"/>
<path d="M1299.2,820.1 L1309.7,837.6 L1288.7,837.6Z"/>
<path d="M1305.9,821.0 L1316.4,838.5 L1295.4,838.5Z"/>
<path d="M1312.7,821.9 L1323.2,839.4 L1302.2,839.4Z"/>
<path d="M1319.5,822.7 L1330.0,840.2 L1309.0,840.2Z"/>
</g>
<path d="M194.3,944.0 L201.1,940.7 L207.9,937.7 L214.6,935.2 L221.4,932.9 L228.2,931.0 L235.0,929.2 L241.7,927.6 L248.5,926.1 L255.3,924.7 L262.1,923.2 L268.9,921.7 L275.6,920.1 L282.4,918.3 L289.2,916.3 L296.0,914.0 L302.8,911.6 L309.5,908.9 L316.3,906.0 L323.1,903.0 L329.9,899.8 L336.6,896.5 L343.4,893.1 L350.2,889.6 L357.0,886.1 L363.8,882.4 L370.5,878.8 L377.3,875.1 L384.1,871.5 L390.9,867.8 L397.6,864.2 L404.4,860.4 L411.2,856.5 L418.0,852.3 L424.8,847.8 L431.5,843.0 L438.3,837.7 L445.1,832.1 L451.9,826.1 L458.7,819.9 L465.4,813.2 L472.2,806.3 L479.0,799.1 L485.8,791.4 L492.5,783.4 L499.3,774.8 L506.1,765.7 L512.9,756.1 L519.7,745.9 L526.4,735.1 L533.2,723.6 L540.0,711.4 L546.8,698.4 L553.6,684.4 L560.3,669.1 L567.1,652.4 L573.9,634.0 L580.7,614.2 L587.4,595.6 L594.2,578.8 L601.0,558.0 L607.8,533.4 L614.6,506.7 L621.3,479.4 L628.1,452.0 L634.9,424.4 L641.7,396.8 L648.4,369.5 L655.2,343.0 L662.0,316.9 L668.8,292.0 L675.6,275.3 L682.3,255.9 L689.1,233.9 L695.9,213.8 L702.7,198.6 L709.5,188.3 L716.2,182.0 L723.0,179.1 L729.8,178.9 L736.6,180.6 L743.3,184.1 L750.1,192.0 L756.9,203.3 L763.7,216.4 L770.5,230.0 L777.2,243.9 L784.0,258.3 L790.8,273.6 L797.6,290.1 L804.3,307.7 L811.1,326.4 L817.9,345.5 L824.7,364.6 L831.5,383.3 L838.2,401.2 L845.0,418.0 L851.8,434.1 L858.6,450.0 L865.4,466.0 L872.1,481.6 L878.9,496.6 L885.7,511.1 L892.5,525.0 L899.2,538.4 L906.0,551.3 L912.8,563.7 L919.6,575.6 L926.4,587.0 L933.1,598.0 L939.9,608.5 L946.7,618.6 L953.5,628.2 L960.2,637.4 L967.0,646.3 L973.8,654.7 L980.6,662.8 L987.4,670.5 L994.1,677.9 L1000.9,685.0 L1007.7,691.7 L1014.5,698.1 L1021.3,704.2 L1028.0,710.1 L1034.8,715.7 L1041.6,721.1 L1048.4,726.2 L1055.1,731.1 L1061.9,735.7 L1068.7,740.2 L1075.5,744.5 L1082.3,748.7 L1089.0,752.6 L1095.8,756.5 L1102.6,760.2 L1109.4,763.7 L1116.2,767.2 L1122.9,770.5 L1129.7,773.7 L1136.5,776.7 L1143.3,779.7 L1150.0,782.5 L1156.8,785.3 L1163.6,787.9 L1170.4,790.5 L1177.2,792.9 L1183.9,795.3 L1190.7,797.6 L1197.5,799.8 L1204.3,801.9 L1211.0,804.0 L1217.8,806.0 L1224.6,807.9 L1231.4,809.8 L1238.2,811.6 L1244.9,813.4 L1251.7,815.1 L1258.5,816.8 L1265.3,818.4 L1272.1,820.1 L1278.8,821.7 L1285.6,823.2 L1292.4,824.8 L1299.2,826.3 L1305.9,827.8 L1312.7,829.3 L1319.5,830.9" fill="none" stroke="#008000" stroke-width="5.5" stroke-linejoin="round"/>
<g fill="#008000">
<path d="M183.8,938.0 L204.8,938.0 L194.3,955.5Z"/>
<path d="M190.6,934.7 L211.6,934.7 L201.1,952.2Z"/>
<path d="M197.4,931.7 L218.4,931.7 L207.9,949.2Z"/>
<path d="M204.1,929.2 L225.1,929.2 L214.6,946.7Z"/>
<path d="M210.9,926.9 L231.9,926.9 L221.4,944.4Z"/>
<path d="M217.7,925.0 L238.7,925.0 L228.2,942.5Z"/>
<path d="M224.5,923.2 L245.5,923.2 L235.0,940.7Z"/>
<path d="M231.2,921.6 L252.2,921.6 L241.7,939.1Z"/>
<path d="M238.0,920.1 L259.0,920.1 L248.5,937.6Z"/>
<path d="M244.8,918.7 L265.8,918.7 L255.3,936.2Z"/>
<path d="M251.6,917.2 L272.6,917.2 L262.1,934.7Z"/>
<path d="M258.4,915.7 L279.4,915.7 L268.9,933.2Z"/>
<path d="M265.1,914.1 L286.1,914.1 L275.6,931.6Z"/>
<path d="M271.9,912.3 L292.9,912.3 L282.4,929.8Z"/>
<path d="M278.7,910.3 L299.7,910.3 L289.2,927.8Z"/>
<path d="M285.5,908.0 L306.5,908.0 L296.0,925.5Z"/>
<path d="M292.3,905.6 L313.3,905.6 L302.8,923.1Z"/>
<path d="M299.0,902.9 L320.0,902.9 L309.5,920.4Z"/>
<path d="M305.8,900.0 L326.8,900.0 L316.3,917.5Z"/>
<path d="M312.6,897.0 L333.6,897.0 L323.1,914.5Z"/>
<path d="M319.4,893.8 L340.4,893.8 L329.9,911.3Z"/>
<path d="M326.1,890.5 L347.1,890.5 L336.6,908.0Z"/>
<path d="M332.9,887.1 L353.9,887.1 L343.4,904.6Z"/>
<path d="M339.7,883.6 L360.7,883.6 L350.2,901.1Z"/>
<path d="M346.5,880.1 L367.5,880.1 L357.0,897.6Z"/>
<path d="M353.3,876.4 L374.3,876.4 L363.8,893.9Z"/>
<path d="M360.0,872.8 L381.0,872.8 L370.5,890.3Z"/>
<path d="M366.8,869.1 L387.8,869.1 L377.3,886.6Z"/>
<path d="M373.6,865.5 L394.6,865.5 L384.1,883.0Z"/>
<path d="M380.4,861.8 L401.4,861.8 L390.9,879.3Z"/>
<path d="M387.1,858.2 L408.1,858.2 L397.6,875.7Z"/>
<path d="M393.9,854.4 L414.9,854.4 L404.4,871.9Z"/>
<path d="M400.7,850.5 L421.7,850.5 L411.2,868.0Z"/>
<path d="M407.5,846.3 L428.5,846.3 L418.0,863.8Z"/>
<path d="M414.3,841.8 L435.3,841.8 L424.8,859.3Z"/>
<path d="M421.0,837.0 L442.0,837.0 L431.5,854.5Z"/>
<path d="M427.8,831.7 L448.8,831.7 L438.3,849.2Z"/>
<path d="M434.6,826.1 L455.6,826.1 L445.1,843.6Z"/>
<path d="M441.4,820.1 L462.4,820.1 L451.9,837.6Z"/>
<path d="M448.2,813.9 L469.2,813.9 L458.7,831.4Z"/>
<path d="M454.9,807.2 L475.9,807.2 L465.4,824.7Z"/>
<path d="M461.7,800.3 L482.7,800.3 L472.2,817.8Z"/>
<path d="M468.5,793.1 L489.5,793.1 L479.0,810.6Z"/>
<path d="M475.3,785.4 L496.3,785.4 L485.8,802.9Z"/>
<path d="M482.0,777.4 L503.0,777.4 L492.5,794.9Z"/>
<path d="M488.8,768.8 L509.8,768.8 L499.3,786.3Z"/>
<path d="M495.6,759.7 L516.6,759.7 L506.1,777.2Z"/>
<path d="M502.4,750.1 L523.4,750.1 L512.9,767.6Z"/>
<path d="M509.2,739.9 L530.2,739.9 L519.7,757.4Z"/>
<path d="M515.9,729.1 L536.9,729.1 L526.4,746.6Z"/>
<path d="M522.7,717.6 L543.7,717.6 L533.2,735.1Z"/>
<path d="M529.5,705.4 L550.5,705.4 L540.0,722.9Z"/>
<path d="M536.3,692.4 L557.3,692.4 L546.8,709.9Z"/>
<path d="M543.1,678.4 L564.1,678.4 L553.6,695.9Z"/>
<path d="M549.8,663.1 L570.8,663.1 L560.3,680.6Z"/>
<path d="M556.6,646.4 L577.6,646.4 L567.1,663.9Z"/>
<path d="M563.4,628.0 L584.4,628.0 L573.9,645.5Z"/>
<path d="M570.2,608.2 L591.2,608.2 L580.7,625.7Z"/>
<path d="M576.9,589.6 L597.9,589.6 L587.4,607.1Z"/>
<path d="M583.7,572.8 L604.7,572.8 L594.2,590.3Z"/>
<path d="M590.5,552.0 L611.5,552.0 L601.0,569.5Z"/>
<path d="M597.3,527.4 L618.3,527.4 L607.8,544.9Z"/>
<path d="M604.1,500.7 L625.1,500.7 L614.6,518.2Z"/>
<path d="M610.8,473.4 L631.8,473.4 L621.3,490.9Z"/>
<path d="M617.6,446.0 L638.6,446.0 L628.1,463.5Z"/>
<path d="M624.4,418.4 L645.4,418.4 L634.9,435.9Z"/>
<path d="M631.2,390.8 L652.2,390.8 L641.7,408.3Z"/>
<path d="M637.9,363.5 L658.9,363.5 L648.4,381.0Z"/>
<path d="M644.7,337.0 L665.7,337.0 L655.2,354.5Z"/>
<path d="M651.5,310.9 L672.5,310.9 L662.0,328.4Z"/>
<path d="M658.3,286.0 L679.3,286.0 L668.8,303.5Z"/>
<path d="M665.1,269.3 L686.1,269.3 L675.6,286.8Z"/>
<path d="M671.8,249.9 L692.8,249.9 L682.3,267.4Z"/>
<path d="M678.6,227.9 L699.6,227.9 L689.1,245.4Z"/>
<path d="M685.4,207.8 L706.4,207.8 L695.9,225.3Z"/>
<path d="M692.2,192.6 L713.2,192.6 L702.7,210.1Z"/>
<path d="M699.0,182.3 L720.0,182.3 L709.5,199.8Z"/>
<path d="M705.7,176.0 L726.7,176.0 L716.2,193.5Z"/>
<path d="M712.5,173.1 L733.5,173.1 L723.0,190.6Z"/>
<path d="M719.3,172.9 L740.3,172.9 L729.8,190.4Z"/>
<path d="M726.1,174.6 L747.1,174.6 L736.6,192.1Z"/>
<path d="M732.8,178.1 L753.8,178.1 L743.3,195.6Z"/>
<path d="M739.6,186.0 L760.6,186.0 L750.1,203.5Z"/>
<path d="M746.4,197.3 L767.4,197.3 L756.9,214.8Z"/>
<path d="M753.2,210.4 L774.2,210.4 L763.7,227.9Z"/>
<path d="M760.0,224.0 L781.0,224.0 L770.5,241.5Z"/>
<path d="M766.7,237.9 L787.7,237.9 L777.2,255.4Z"/>
<path d="M773.5,252.3 L794.5,252.3 L784.0,269.8Z"/>
<path d="M780.3,267.6 L801.3,267.6 L790.8,285.1Z"/>
<path d="M787.1,284.1 L808.1,284.1 L797.6,301.6Z"/>
<path d="M793.8,301.7 L814.8,301.7 L804.3,319.2Z"/>
<path d="M800.6,320.4 L821.6,320.4 L811.1,337.9Z"/>
<path d="M807.4,339.5 L828.4,339.5 L817.9,357.0Z"/>
<path d="M814.2,358.6 L835.2,358.6 L824.7,376.1Z"/>
<path d="M821.0,377.3 L842.0,377.3 L831.5,394.8Z"/>
<path d="M827.7,395.2 L848.7,395.2 L838.2,412.7Z"/>
<path d="M834.5,412.0 L855.5,412.0 L845.0,429.5Z"/>
<path d="M841.3,428.1 L862.3,428.1 L851.8,445.6Z"/>
<path d="M848.1,444.0 L869.1,444.0 L858.6,461.5Z"/>
<path d="M854.9,460.0 L875.9,460.0 L865.4,477.5Z"/>
<path d="M861.6,475.6 L882.6,475.6 L872.1,493.1Z"/>
<path d="M868.4,490.6 L889.4,490.6 L878.9,508.1Z"/>
<path d="M875.2,505.1 L896.2,505.1 L885.7,522.6Z"/>
<path d="M882.0,519.0 L903.0,519.0 L892.5,536.5Z"/>
<path d="M888.7,532.4 L909.7,532.4 L899.2,549.9Z"/>
<path d="M895.5,545.3 L916.5,545.3 L906.0,562.8Z"/>
<path d="M902.3,557.7 L923.3,557.7 L912.8,575.2Z"/>
<path d="M909.1,569.6 L930.1,569.6 L919.6,587.1Z"/>
<path d="M915.9,581.0 L936.9,581.0 L926.4,598.5Z"/>
<path d="M922.6,592.0 L943.6,592.0 L933.1,609.5Z"/>
<path d="M929.4,602.5 L950.4,602.5 L939.9,620.0Z"/>
<path d="M936.2,612.6 L957.2,612.6 L946.7,630.1Z"/>
<path d="M943.0,622.2 L964.0,622.2 L953.5,639.7Z"/>
<path d="M949.7,631.4 L970.7,631.4 L960.2,648.9Z"/>
<path d="M956.5,640.3 L977.5,640.3 L967.0,657.8Z"/>
<path d="M963.3,648.7 L984.3,648.7 L973.8,666.2Z"/>
<path d="M970.1,656.8 L991.1,656.8 L980.6,674.3Z"/>
<path d="M976.9,664.5 L997.9,664.5 L987.4,682.0Z"/>
<path d="M983.6,671.9 L1004.6,671.9 L994.1,689.4Z"/>
<path d="M990.4,679.0 L1011.4,679.0 L1000.9,696.5Z"/>
<path d="M997.2,685.7 L1018.2,685.7 L1007.7,703.2Z"/>
<path d="M1004.0,692.1 L1025.0,692.1 L1014.5,709.6Z"/>
<path d="M1010.8,698.2 L1031.8,698.2 L1021.3,715.7Z"/>
<path d="M1017.5,704.1 L1038.5,704.1 L1028.0,721.6Z"/>
<path d="M1024.3,709.7 L1045.3,709.7 L1034.8,727.2Z"/>
<path d="M1031.1,715.1 L1052.1,715.1 L1041.6,732.6Z"/>
<path d="M1037.9,720.2 L1058.9,720.2 L1048.4,737.7Z"/>
<path d="M1044.6,725.1 L1065.6,725.1 L1055.1,742.6Z"/>
<path d="M1051.4,729.7 L1072.4,729.7 L1061.9,747.2Z"/>
<path d="M1058.2,734.2 L1079.2,734.2 L1068.7,751.7Z"/>
<path d="M1065.0,738.5 L1086.0,738.5 L1075.5,756.0Z"/>
<path d="M1071.8,742.7 L1092.8,742.7 L1082.3,760.2Z"/>
<path d="M1078.5,746.6 L1099.5,746.6 L1089.0,764.1Z"/>
<path d="M1085.3,750.5 L1106.3,750.5 L1095.8,768.0Z"/>
<path d="M1092.1,754.2 L1113.1,754.2 L1102.6,771.7Z"/>
<path d="M1098.9,757.7 L1119.9,757.7 L1109.4,775.2Z"/>
<path d="M1105.7,761.2 L1126.7,761.2 L1116.2,778.7Z"/>
<path d="M1112.4,764.5 L1133.4,764.5 L1122.9,782.0Z"/>
<path d="M1119.2,767.7 L1140.2,767.7 L1129.7,785.2Z"/>
<path d="M1126.0,770.7 L1147.0,770.7 L1136.5,788.2Z"/>
<path d="M1132.8,773.7 L1153.8,773.7 L1143.3,791.2Z"/>
<path d="M1139.5,776.5 L1160.5,776.5 L1150.0,794.0Z"/>
<path d="M1146.3,779.3 L1167.3,779.3 L1156.8,796.8Z"/>
<path d="M1153.1,781.9 L1174.1,781.9 L1163.6,799.4Z"/>
<path d="M1159.9,784.5 L1180.9,784.5 L1170.4,802.0Z"/>
<path d="M1166.7,786.9 L1187.7,786.9 L1177.2,804.4Z"/>
<path d="M1173.4,789.3 L1194.4,789.3 L1183.9,806.8Z"/>
<path d="M1180.2,791.6 L1201.2,791.6 L1190.7,809.1Z"/>
<path d="M1187.0,793.8 L1208.0,793.8 L1197.5,811.3Z"/>
<path d="M1193.8,795.9 L1214.8,795.9 L1204.3,813.4Z"/>
<path d="M1200.5,798.0 L1221.5,798.0 L1211.0,815.5Z"/>
<path d="M1207.3,800.0 L1228.3,800.0 L1217.8,817.5Z"/>
<path d="M1214.1,801.9 L1235.1,801.9 L1224.6,819.4Z"/>
<path d="M1220.9,803.8 L1241.9,803.8 L1231.4,821.3Z"/>
<path d="M1227.7,805.6 L1248.7,805.6 L1238.2,823.1Z"/>
<path d="M1234.4,807.4 L1255.4,807.4 L1244.9,824.9Z"/>
<path d="M1241.2,809.1 L1262.2,809.1 L1251.7,826.6Z"/>
<path d="M1248.0,810.8 L1269.0,810.8 L1258.5,828.3Z"/>
<path d="M1254.8,812.4 L1275.8,812.4 L1265.3,829.9Z"/>
<path d="M1261.6,814.1 L1282.6,814.1 L1272.1,831.6Z"/>
<path d="M1268.3,815.7 L1289.3,815.7 L1278.8,833.2Z"/>
<path d="M1275.1,817.2 L1296.1,817.2 L1285.6,834.7Z"/>
<path d="M1281.9,818.8 L1302.9,818.8 L1292.4,836.3Z"/>
<path d="M1288.7,820.3 L1309.7,820.3 L1299.2,837.8Z"/>
<path d="M1295.4,821.8 L1316.4,821.8 L1305.9,839.3Z"/>
<path d="M1302.2,823.3 L1323.2,823.3 L1312.7,840.8Z"/>
<path d="M1309.0,824.9 L1330.0,824.9 L1319.5,842.4Z"/>
</g>
<g font-family="'Liberation Sans', Arial, sans-serif" font-weight="bold" font-size="46" fill="#000">
<text transform="translate(173.0,967.1) scale(1,1.055)" text-anchor="end">2</text>
<text transform="translate(173.0,871.7) scale(1,1.055)" text-anchor="end">3</text>
<text transform="translate(173.0,776.2) scale(1,1.055)" text-anchor="end">4</text>
<text transform="translate(173.0,680.8) scale(1,1.055)" text-anchor="end">5</text>
<text transform="translate(173.0,585.4) scale(1,1.055)" text-anchor="end">6</text>
<text transform="translate(173.0,490.0) scale(1,1.055)" text-anchor="end">7</text>
<text transform="translate(173.0,394.6) scale(1,1.055)" text-anchor="end">8</text>
<text transform="translate(173.0,299.1) scale(1,1.055)" text-anchor="end">9</text>
<text transform="translate(173.0,203.7) scale(1,1.055)" text-anchor="end">10</text>
<text transform="translate(173.0,108.3) scale(1,1.055)" text-anchor="end">11</text>
<text transform="translate(192.5,1056.8) scale(1,1.055)" text-anchor="middle">-50</text>
<text transform="translate(305.4,1056.8) scale(1,1.055)" text-anchor="middle">-40</text>
<text transform="translate(418.2,1056.8) scale(1,1.055)" text-anchor="middle">-30</text>
<text transform="translate(531.0,1056.8) scale(1,1.055)" text-anchor="middle">-20</text>
<text transform="translate(643.9,1056.8) scale(1,1.055)" text-anchor="middle">-10</text>
<text transform="translate(756.8,1056.8) scale(1,1.055)" text-anchor="middle">0</text>
<text transform="translate(869.6,1056.8) scale(1,1.055)" text-anchor="middle">10</text>
<text transform="translate(982.5,1056.8) scale(1,1.055)" text-anchor="middle">20</text>
<text transform="translate(1095.3,1056.8) scale(1,1.055)" text-anchor="middle">30</text>
<text transform="translate(1208.2,1056.8) scale(1,1.055)" text-anchor="middle">40</text>
<text transform="translate(1321.0,1056.8) scale(1,1.055)" text-anchor="middle">50</text>
</g>
<text font-family="'Liberation Serif', 'Times New Roman', serif" font-weight="bold" font-size="69" text-anchor="middle" transform="translate(93,548) rotate(-90)">Resistivity(k&#937;)</text>
<text font-family="'Liberation Serif', 'Times New Roman', serif" font-weight="bold" font-size="69" text-anchor="middle" x="756" y="1143">Vg(V)</text>
<g font-family="'Liberation Sans', Arial, sans-serif" font-weight="bold" fill="#000">
<text transform="translate(201.0,159.0) scale(1,1.055)" font-size="60">(V<tspan font-size="41" dy="15">d</tspan><tspan dy="-15"> = 1V)</tspan></text>
<text x="1316" y="152" font-size="60" text-anchor="end">(e)</text>
<text transform="translate(497.0,865.6) scale(1,1.055)" font-size="60">Sample-5</text>
<text transform="translate(356.0,923.9) scale(1,1.055)" font-size="42.6">n-type DUV Dopping</text>
<text transform="translate(356.0,977.8) scale(1,1.055)" font-size="42.7">DUV Irradiations in pure N<tspan font-size="30" dy="9.5">2</tspan><tspan dy="-9.5"> followed in Vacuum</tspan></text>
</g>
<rect x="902" y="204.0" width="76" height="5" fill="#000"/>
<rect x="932.0" y="198.0" width="17" height="17" fill="#000"/>
<text transform="translate(985.4,217.8) scale(1,1.055)" font-family="'Liberation Sans', Arial, sans-serif" font-size="32.7" textLength="296.4" lengthAdjust="spacing" stroke="#000" stroke-width="1.1">DUV-120m(01<tspan font-size="22" dy="-12.5">st</tspan><tspan dy="12.5">Day)</tspan></text>
<rect x="902" y="248.0" width="76" height="5" fill="#f00"/>
<circle cx="940.5" cy="250.5" r="8.5" fill="#f00"/>
<text transform="translate(985.4,261.8) scale(1,1.055)" font-family="'Liberation Sans', Arial, sans-serif" font-size="32.7" textLength="298.9" lengthAdjust="spacing" stroke="#000" stroke-width="1.1">DUV-120m(20<tspan font-size="22" dy="-12.5">th</tspan><tspan dy="12.5">Day)</tspan></text>
<rect x="902" y="292.4" width="76" height="5" fill="#00f"/>
<path d="M940.5,283.9 L950.5,300.9 L930.5,300.9Z" fill="#00f"/>
<text transform="translate(985.4,306.3) scale(1,1.055)" font-family="'Liberation Sans', Arial, sans-serif" font-size="32.7" textLength="298.9" lengthAdjust="spacing" stroke="#000" stroke-width="1.1">DUV-120m(30<tspan font-size="22" dy="-12.5">th</tspan><tspan dy="12.5">Day)</tspan></text>
<rect x="902" y="333.0" width="76" height="5" fill="#008000"/>
<path d="M930.5,329.5 L950.5,329.5 L940.5,346.5Z" fill="#008000"/>
<text transform="translate(985.4,346.8) scale(1,1.055)" font-family="'Liberation Sans', Arial, sans-serif" font-size="32.7" textLength="326.5" lengthAdjust="spacing" stroke="#000" stroke-width="1.1">DUV-120m(4 months)</text>
<text transform="translate(984.8,392.8) scale(1,1.055)" font-family="'Liberation Sans', Arial, sans-serif" font-weight="bold" font-size="33">V<tspan font-size="23" font-weight="normal" stroke="#000" stroke-width="0.6" dy="9">CNP(1</tspan><tspan font-size="15" font-weight="normal" stroke="#000" stroke-width="0.5" letter-spacing="0.8" dy="-15.5">st</tspan><tspan font-size="23" font-weight="normal" stroke="#000" stroke-width="0.6" letter-spacing="0.65" dy="15.5">day)</tspan><tspan dy="-9">= -24.6V</tspan></text>
<text transform="translate(984.8,445.6) scale(1,1.055)" font-family="'Liberation Sans', Arial, sans-serif" font-weight="bold" font-size="33">V<tspan font-size="23" font-weight="normal" stroke="#000" stroke-width="0.6" dy="9">CNP(20</tspan><tspan font-size="15" font-weight="normal" stroke="#000" stroke-width="0.5" letter-spacing="0.8" dy="-15.5">th</tspan><tspan font-size="23" font-weight="normal" stroke="#000" stroke-width="0.6" letter-spacing="0.65" dy="15.5">day)</tspan><tspan dy="-9">= -08.3V</tspan></text>
<text transform="translate(984.8,500.2) scale(1,1.055)" font-family="'Liberation Sans', Arial, sans-serif" font-weight="bold" font-size="33">V<tspan font-size="23" font-weight="normal" stroke="#000" stroke-width="0.6" dy="9">CNP(30</tspan><tspan font-size="15" font-weight="normal" stroke="#000" stroke-width="0.5" letter-spacing="0.8" dy="-15.5">th</tspan><tspan font-size="23" font-weight="normal" stroke="#000" stroke-width="0.6" letter-spacing="0.65" dy="15.5">day)</tspan><tspan dy="-9">= -04.7V</tspan></text>
<text transform="translate(984.8,553.5) scale(1,1.055)" font-family="'Liberation Sans', Arial, sans-serif" font-weight="bold" font-size="33">V<tspan font-size="23" font-weight="normal" stroke="#000" stroke-width="0.6" dy="9">CNP(4</tspan><tspan font-size="15" font-weight="normal" stroke="#000" stroke-width="0.5" letter-spacing="0.8" dy="-15.5">th</tspan><tspan font-size="23" font-weight="normal" stroke="#000" stroke-width="0.6" letter-spacing="1.0" dy="15.5">month)</tspan><tspan dy="-9">= -02.4V</tspan></text>
</svg>
</body></html>
